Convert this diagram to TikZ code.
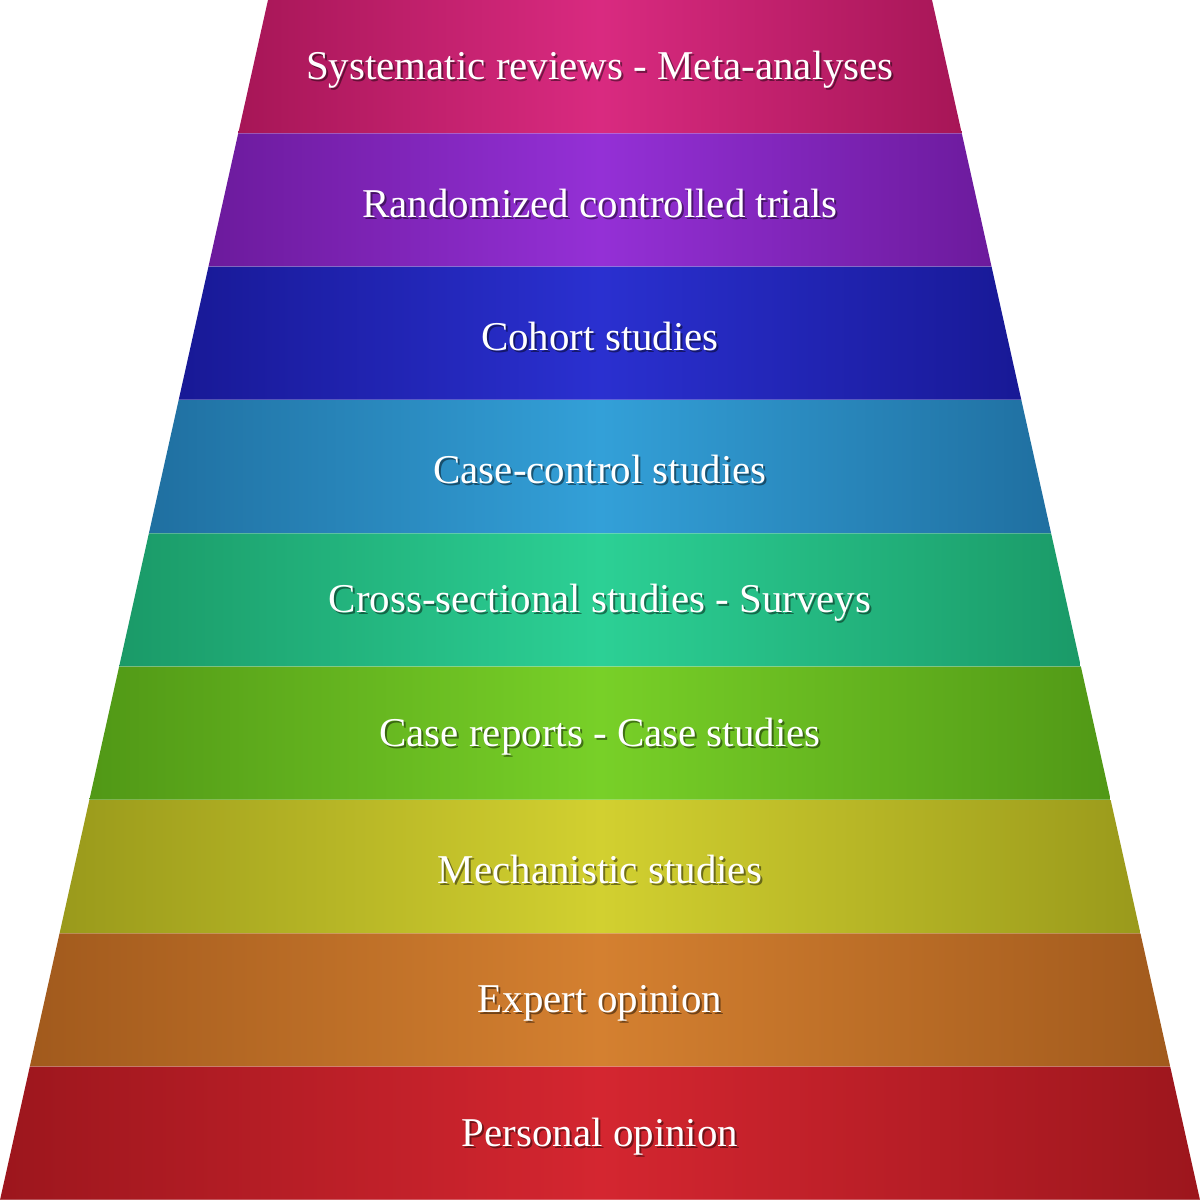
\documentclass[tikz,border=0pt]{standalone}
\usepackage{fontspec}
\setmainfont{Liberation Serif}
\begin{document}
\begin{tikzpicture}[x=0.02cm,y=-0.02cm,
  lbl/.style={text=white,font=\fontsize{23.3}{26}\selectfont,inner sep=0},
  shd/.style={text=black,opacity=0.45,font=\fontsize{23.3}{26}\selectfont,inner sep=0}]
\useasboundingbox (0,0) rectangle (1200,1200);
\fill[white] (0,0) rectangle (1200,1200);
\foreach \i/\cd/\cl/\t in {0/C41A66/D92A80/Systematic reviews - Meta-analyses,1/7F1FB8/9430D6/Randomized controlled trials,2/1C1DB0/2A30D0/Cohort studies,3/2583BD/33A0D8/Case-control studies,4/1FB57A/2CD095/Cross-sectional studies - Surveys,5/5FB31A/78D028/Case reports - Case studies,6/B5B520/D2D030/Mechanistic studies,7/BE6A22/D48030/Expert opinion,8/B81A22/D42630/Personal opinion}{
  \pgfmathsetmacro\ya{\i*1200/9}
  \pgfmathsetmacro\yb{(\i+1)*1200/9}
  \pgfmathsetmacro\xa{268-0.22333*\ya}
  \pgfmathsetmacro\xb{268-0.22333*\yb}
  \pgfmathsetmacro\ym{(\ya+\yb)/2+3}
  \definecolor{cd}{HTML}{\cd}\definecolor{cl}{HTML}{\cl}
  \begin{scope}
  \clip (\xa,\ya) -- (1200-\xa,\ya) -- (1200-\xb,\yb) -- (\xb,\yb) -- cycle;
  \shade[left color=cd!85!black,right color=cd!85!black,middle color=cl] (\xb,\ya) rectangle (1200-\xb,\yb);
  \end{scope}
  \draw[white,opacity=0.25,line width=0.6pt] (\xb,\yb) -- (1200-\xb,\yb);
  \node[shd] (s\i) at (602,\ym+2) {\t};
  \node[lbl] (t\i) at (600,\ym) {\t};
}
\end{tikzpicture}
\end{document}
